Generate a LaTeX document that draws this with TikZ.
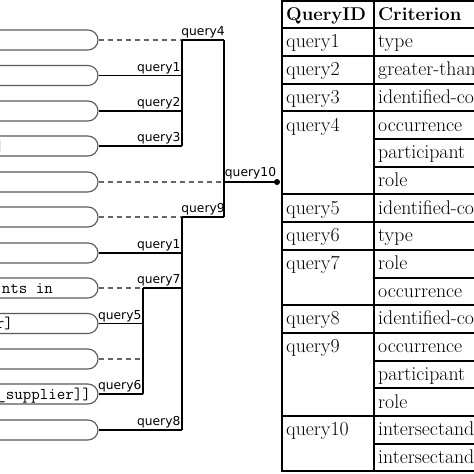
\documentclass[tikz,border=0pt]{standalone}
\usepackage{fontspec}
\newfontfamily\lblfont{DejaVu Sans}
\usetikzlibrary{shapes.misc}
\tikzset{
  pill/.style={rounded rectangle, rounded rectangle left arc=none, draw=black!65, line width=1.1pt,
    minimum width=160pt, minimum height=20pt, inner sep=0pt},
  conn/.style={draw=black, line width=1.2pt},
  dconn/.style={draw=black!60, line width=1.1pt, dash pattern=on 5pt off 4pt},
  qlbl/.style={font=\lblfont\fontsize{12.3}{14}\selectfont, inner sep=1pt},
  ptext/.style={font=\ttfamily\fontsize{16.5}{19}\selectfont, inner sep=0pt, anchor=base east},
  tgrid/.style={draw=black, line width=2pt},
  ttext/.style={font=\fontsize{19.8}{23}\selectfont, inner sep=0pt, anchor=base west},
  thead/.style={font=\bfseries\fontsize{18.5}{22}\selectfont, inner sep=0pt, anchor=base west},
}
\begin{document}
\begin{tikzpicture}[x=1pt,y=-1pt]
\useasboundingbox (0,0) rectangle (474,474);
\clip (0,0) rectangle (474,474);
% pills
\foreach \i/\y in {1/40,2/75.5,3/111,4/146,5/182,6/217,7/253,8/288,9/323.5,10/359,11/394,12/430}{
  \node[pill] (p\i) at (18,\y) {};
}
% pill texts (visible parts)
\node[ptext] (t4) at (4,151) {]};
\node[ptext] (t8) at (53,293) {nts in};
\node[ptext] (t9) at (13,328.5) {r]};
\node[ptext] (t11) at (91,399) {\_supplier]]};
% junction coordinates
\coordinate (c4a) at (182,40);
\coordinate (c4o) at (224,40);
\coordinate (c9a) at (182,217);
\coordinate (c9o) at (224,217);
\coordinate (c7a) at (143,288);
\node[circle, fill=black, inner sep=0pt, minimum size=6pt] (dot) at (277,182) {};
% query4 group
\draw[dconn] (p1.east) -- (c4a);
\draw[conn] (p2.east) -- (p2.east -| c4a) node[qlbl, pos=1, anchor=south east] {query1};
\draw[conn] (p3.east) -- (p3.east -| c4a) node[qlbl, pos=1, anchor=south east] {query2};
\draw[conn] (p4.east) -- (p4.east -| c4a) node[qlbl, pos=1, anchor=south east] {query3};
\draw[conn] (c4a) -- (c4a |- p4.east);
\draw[conn] (c4a) -- (c4o) node[qlbl, midway, anchor=south] {query4};
\draw[conn] (c4o) -- (c9o);
% query10
\draw[dconn] (p5.east) -- (p5.east -| c9o);
\draw[conn] (p5.east -| c9o) -- (dot.center) node[qlbl, midway, anchor=south, yshift=1pt] {query10};
% query9 group
\draw[dconn] (p6.east) -- (c9a);
\draw[conn] (c9a) -- (c9o) node[qlbl, midway, anchor=south] {query9};
\draw[conn] (c9a) -- (c9a |- p12.east);
\draw[conn] (p7.east) -- (p7.east -| c9a) node[qlbl, pos=1, anchor=south east] {query1};
\draw[conn] (p12.east) -- (p12.east -| c9a) node[qlbl, pos=1, anchor=south east] {query8};
% query7 group
\draw[dconn] (p8.east) -- (c7a);
\draw[conn] (c7a) -- (c7a |- p11.east);
\draw[conn] (c7a) -- (c7a -| c9a) node[qlbl, pos=1, anchor=south east] {query7};
\draw[conn] (p9.east) -- (p9.east -| c7a) node[qlbl, pos=1, anchor=south east] {query5};
\draw[dconn] (p10.east) -- (p10.east -| c7a);
\draw[conn] (p11.east) -- (p11.east -| c7a) node[qlbl, pos=1, anchor=south east] {query6};
% table
\pgfmathsetmacro{\rh}{27.7}
\draw[tgrid] (282,1) rectangle (480,471.4);
\draw[tgrid] (374,1) -- (374,471.4);
% full-width row lines
\foreach \k in {1,2,3,4,7,8,9,11,12,15}{
  \draw[tgrid] (282,0.5+\rh*\k) -- (480,0.5+\rh*\k);
}
% criterion-only lines
\foreach \k in {5,6,10,13,14,16}{
  \draw[tgrid] (374,0.5+\rh*\k) -- (480,0.5+\rh*\k);
}
% header
\node[thead] (hq) at (286,0.5+\rh*1-8) {QueryID};
\node[thead] (hc) at (378,0.5+\rh*1-8) {Criterion};
% query ids
\foreach \k/\q in {2/query1,3/query2,4/query3,5/query4,8/query5,9/query6,10/query7,12/query8,13/query9,16/query10}{
  \node[ttext] (id\k) at (286,0.5+\rh*\k-8) {\q};
}
% criteria
\foreach \k/\c in {2/type,3/greater-than,4/identified-co,5/occurrence,6/participant,7/role,8/identified-co,9/type,10/role,11/occurrence,12/identified-co,13/occurrence,14/participant,15/role,16/intersectand,17/intersectand}{
  \node[ttext] (cr\k) at (378,0.5+\rh*\k-8) {\c};
}
\end{tikzpicture}
\end{document}
